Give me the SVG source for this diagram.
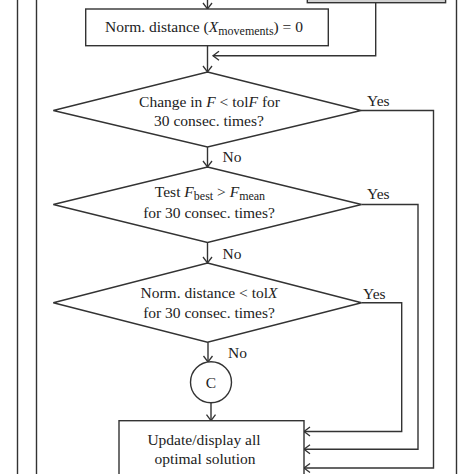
<svg xmlns="http://www.w3.org/2000/svg" width="474" height="474" viewBox="0 0 474 474">
<defs>
<style>
.s{fill:none;stroke:#333;stroke-width:1.4}
.n{fill:#fff;stroke:#333;stroke-width:1.4}
.t{font-family:"Liberation Serif","Times New Roman",serif;font-size:15.5px;fill:#222}
.m{text-anchor:middle}
.sub{font-size:12px}
</style>
<marker id="a" markerUnits="userSpaceOnUse" markerWidth="12" markerHeight="12" refX="7" refY="6" orient="auto">
<path d="M1,1.5 L7,6 L1,10.5" fill="none" stroke="#333" stroke-width="1.3"/>
</marker>
</defs>
<rect width="474" height="474" fill="#fff"/>
<g id="connectors">
<line class="s" x1="17.5" y1="0" x2="17.5" y2="474"/>
<line class="s" x1="36.5" y1="0" x2="36.5" y2="474"/>
<line class="s" x1="456.5" y1="0" x2="456.5" y2="474"/>
<line class="s" x1="207.5" y1="0" x2="207.5" y2="9" marker-end="url(#a)"/>
<polyline class="s" points="375.7,2.7 375.7,55.7 213,55.7" marker-end="url(#a)"/>
<line class="s" x1="207.5" y1="45.7" x2="207.5" y2="72" marker-end="url(#a)"/>
<line class="s" x1="207.5" y1="147" x2="207.5" y2="167" marker-end="url(#a)"/>
<line class="s" x1="207.5" y1="242.5" x2="207.5" y2="263" marker-end="url(#a)"/>
<line class="s" x1="208" y1="342.3" x2="208" y2="362" marker-end="url(#a)"/>
<line class="s" x1="211" y1="402.5" x2="211" y2="420.7" marker-end="url(#a)"/>
<polyline class="s" points="361,110.5 433.5,110.5 433.5,468 304,468" marker-end="url(#a)"/>
<polyline class="s" points="361.5,204.5 418,204.5 418,449.3 304,449.3" marker-end="url(#a)"/>
<polyline class="s" points="361.5,302.7 401.7,302.7 401.7,431.5 304,431.5" marker-end="url(#a)"/>
<text class="t" x="367" y="106">Yes</text>
<text class="t" x="367" y="198.5">Yes</text>
<text class="t" x="363" y="298.5">Yes</text>
<text class="t" x="222.5" y="162">No</text>
<text class="t" x="222.5" y="259">No</text>
<text class="t" x="228" y="357.5">No</text>
</g>
<g id="top-box">
<rect x="307.3" y="-10" width="138.3" height="12.7" fill="#d2d2d2" stroke="#333" stroke-width="1.4"/>
</g>
<g id="norm-box">
<rect class="n" x="85.7" y="9" width="242.6" height="36.7"/>
<text class="t m" x="204" y="31.5">Norm. distance (<tspan font-style="italic">X</tspan><tspan class="sub" dy="3">movements</tspan><tspan dy="-3">) = 0</tspan></text>
</g>
<g id="decision-1">
<polygon class="n" points="207.5,72 361,110.5 207.5,147 53.3,110.5"/>
<text class="t m" x="209.5" y="106.5">Change in <tspan font-style="italic">F</tspan> &lt; tol<tspan font-style="italic">F</tspan> for</text>
<text class="t m" x="209" y="125.5">30 consec. times?</text>
</g>
<g id="decision-2">
<polygon class="n" points="207.5,167 361.5,204.5 207.5,242.5 53.3,204.5"/>
<text class="t m" x="210" y="197"><tspan>Test </tspan><tspan font-style="italic">F</tspan><tspan class="sub" dy="3">best</tspan><tspan dy="-3"> &gt; </tspan><tspan font-style="italic">F</tspan><tspan class="sub" dy="3">mean</tspan></text>
<text class="t m" x="209" y="217.5">for 30 consec. times?</text>
</g>
<g id="decision-3">
<polygon class="n" points="207.5,263 361.5,302.7 207.5,342.3 53.3,302.7"/>
<text class="t m" x="209" y="298">Norm. distance &lt; tol<tspan font-style="italic">X</tspan></text>
<text class="t m" x="209" y="317.5">for 30 consec. times?</text>
</g>
<g id="connector-c">
<circle class="n" cx="211" cy="382.3" r="20.5"/>
<text class="t m" x="211" y="387.5">C</text>
</g>
<g id="update-box">
<rect class="n" x="119" y="420.7" width="185" height="70"/>
<text class="t m" x="204" y="444.5">Update/display all</text>
<text class="t m" x="205" y="463.5">optimal solution</text>
</g>
</svg>
